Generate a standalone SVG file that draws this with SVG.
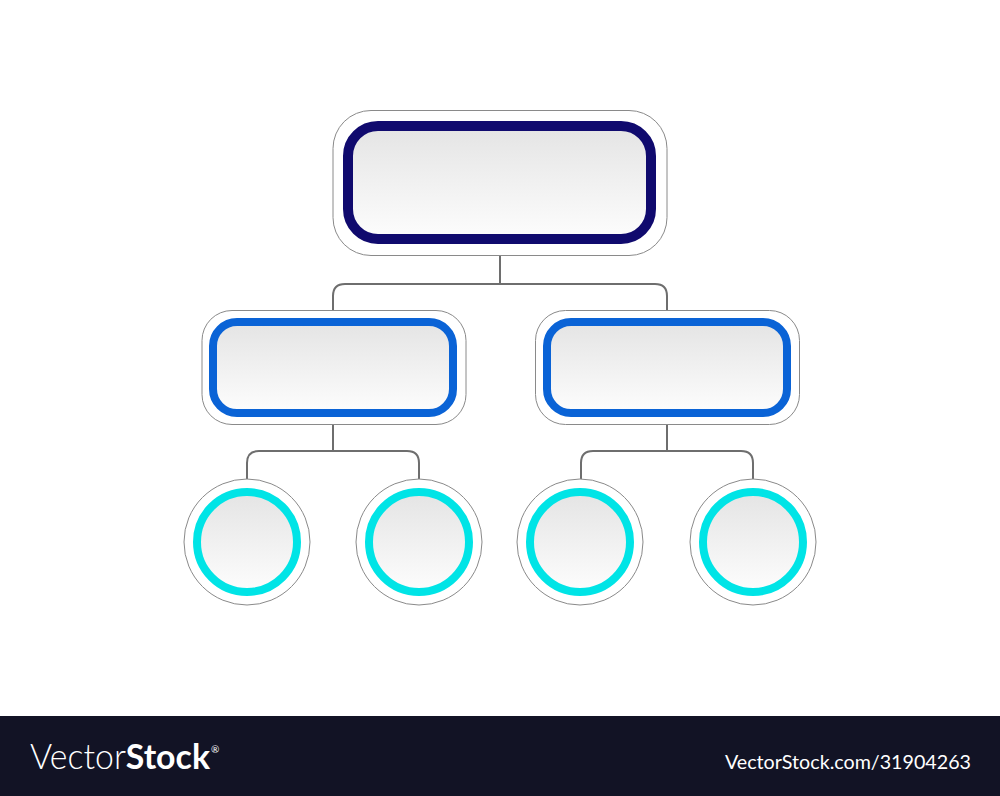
<svg xmlns="http://www.w3.org/2000/svg" width="1000" height="796" viewBox="0 0 1000 796">
<defs>
<linearGradient id="g" x1="0" y1="0" x2="0" y2="1">
<stop offset="0" stop-color="#e4e4e4"/>
<stop offset="1" stop-color="#fdfdfd"/>
</linearGradient>
<style>
.halo{fill:#ffffff;stroke:#8a8a8a;stroke-width:1}
.top{fill:url(#g);stroke:#100a6e;stroke-width:10}
.mid{fill:url(#g);stroke:#0a63d6;stroke-width:8}
.leaf{fill:url(#g);stroke:#00e4e6;stroke-width:8}
.conn{fill:none;stroke:#6e6e6e;stroke-width:2}
.wm{font-family:Lato,"Open Sans","Liberation Sans",sans-serif;fill:#ffffff}
</style>
</defs>
<rect x="0" y="0" width="1000" height="796" fill="#ffffff"/>
<g id="connectors">
<path class="conn" d="M500 256 V284 M333 310 V296 Q333 284 345 284 H655 Q667 284 667 296 V310"/>
<path class="conn" d="M333 425 V451 M247 480 V463 Q247 451 259 451 H407 Q419 451 419 463 V480"/>
<path class="conn" d="M667 425 V451 M581 480 V463 Q581 451 593 451 H741 Q753 451 753 463 V480"/>
</g>
<g id="node-top">
<rect class="halo" x="333" y="110.5" width="334" height="145" rx="38"/>
<rect class="top" x="348" y="126" width="303" height="113" rx="30"/>
</g>
<g id="node-mid-left">
<rect class="halo" x="202" y="310.5" width="264" height="114" rx="30"/>
<rect class="mid" x="213" y="322" width="240" height="91" rx="24"/>
</g>
<g id="node-mid-right">
<rect class="halo" x="535.5" y="310.5" width="264" height="114" rx="30"/>
<rect class="mid" x="547" y="322" width="240" height="91" rx="24"/>
</g>
<g id="leaf-1">
<circle class="halo" cx="247" cy="542" r="63"/>
<circle class="leaf" cx="247" cy="542" r="50"/>
</g>
<g id="leaf-2">
<circle class="halo" cx="419" cy="542" r="63"/>
<circle class="leaf" cx="419" cy="542" r="50"/>
</g>
<g id="leaf-3">
<circle class="halo" cx="580" cy="542" r="63"/>
<circle class="leaf" cx="580" cy="542" r="50"/>
</g>
<g id="leaf-4">
<circle class="halo" cx="753" cy="542" r="63"/>
<circle class="leaf" cx="753" cy="542" r="50"/>
</g>
<g id="banner">
<rect x="0" y="716" width="1000" height="80" fill="#121325"/>
<text class="wm" x="30" y="769" font-size="35" textLength="180" lengthAdjust="spacingAndGlyphs"><tspan font-weight="300">Vector</tspan><tspan font-weight="700">Stock</tspan></text>
<text class="wm" x="211" y="753" font-size="10">®</text>
<text class="wm" x="725" y="769" font-size="20" textLength="246" lengthAdjust="spacingAndGlyphs">VectorStock.com/31904263</text>
</g>
</svg>
